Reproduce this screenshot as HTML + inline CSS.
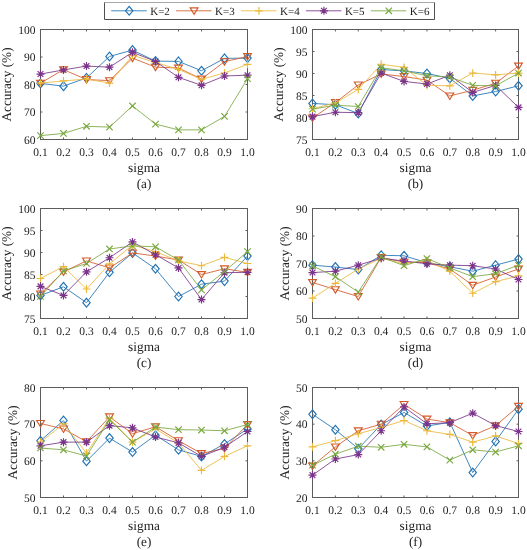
<!DOCTYPE html>
<html><head><meta charset="utf-8"><style>
html,body{margin:0;padding:0;background:#fff;}
body{width:527px;height:550px;position:relative;overflow:hidden;font-family:"Liberation Serif",serif;}
svg text{font-family:"Liberation Serif",serif;text-rendering:geometricPrecision;}
</style></head><body>
<svg width="527" height="550" viewBox="0 0 527 550" style="position:absolute;left:0;top:0;filter:blur(0.3px)">
<rect x="104.5" y="2.5" width="330.0" height="17.0" fill="#fff" stroke="none"/>
<path d="M104.5 2.5H434.5" stroke="#a8a8a8" stroke-width="1"/>
<path d="M104.5 2.5V19.5H434.5V2.5" fill="none" stroke="#505050" stroke-width="1"/>
<path d="M111.20 10.8H146.70" stroke="#1f72b4" stroke-width="0.85"/>
<path d="M129.20 6.40L132.90 10.80L129.20 15.20L125.50 10.80Z" fill="none" stroke="#1f72b4" stroke-width="1.15"/>
<text x="150.20" y="15" font-size="11" fill="#222222">K=2</text>
<path d="M176.10 10.8H211.60" stroke="#d35a2a" stroke-width="0.85"/>
<path d="M190.20 7.90L198.00 7.90L194.10 14.30Z" fill="none" stroke="#d35a2a" stroke-width="1.15"/>
<text x="215.10" y="15" font-size="11" fill="#222222">K=3</text>
<path d="M241.00 10.8H276.50" stroke="#ebb83a" stroke-width="0.85"/>
<path d="M255.10 10.80H262.90M259.00 6.90V14.70" stroke="#ebb83a" stroke-width="1.15"/>
<text x="280.00" y="15" font-size="11" fill="#222222">K=4</text>
<path d="M305.90 10.8H341.40" stroke="#7a3489" stroke-width="0.85"/>
<path d="M319.90 10.80H327.90M323.90 6.80V14.80M321.05 7.95L326.75 13.65M321.05 13.65L326.75 7.95" stroke="#7a3489" stroke-width="1.15"/>
<text x="344.90" y="15" font-size="11" fill="#222222">K=5</text>
<path d="M370.80 10.8H406.30" stroke="#78a83e" stroke-width="0.85"/>
<path d="M385.60 7.60L392.00 14.00M385.60 14.00L392.00 7.60" stroke="#78a83e" stroke-width="1.15"/>
<text x="409.80" y="15" font-size="11" fill="#222222">K=6</text>
<rect x="40.5" y="29.5" width="207.00" height="110.00" fill="none" stroke="#5c5c5c" stroke-width="1"/>
<path d="M40.50 139.5v-2M40.50 29.5v2" stroke="#5c5c5c" stroke-width="1"/>
<text x="40.50" y="155.70" font-size="11.5" text-anchor="middle" fill="#222222">0.1</text>
<path d="M63.50 139.5v-2M63.50 29.5v2" stroke="#5c5c5c" stroke-width="1"/>
<text x="63.50" y="155.70" font-size="11.5" text-anchor="middle" fill="#222222">0.2</text>
<path d="M86.50 139.5v-2M86.50 29.5v2" stroke="#5c5c5c" stroke-width="1"/>
<text x="86.50" y="155.70" font-size="11.5" text-anchor="middle" fill="#222222">0.3</text>
<path d="M109.50 139.5v-2M109.50 29.5v2" stroke="#5c5c5c" stroke-width="1"/>
<text x="109.50" y="155.70" font-size="11.5" text-anchor="middle" fill="#222222">0.4</text>
<path d="M132.50 139.5v-2M132.50 29.5v2" stroke="#5c5c5c" stroke-width="1"/>
<text x="132.50" y="155.70" font-size="11.5" text-anchor="middle" fill="#222222">0.5</text>
<path d="M155.50 139.5v-2M155.50 29.5v2" stroke="#5c5c5c" stroke-width="1"/>
<text x="155.50" y="155.70" font-size="11.5" text-anchor="middle" fill="#222222">0.6</text>
<path d="M178.50 139.5v-2M178.50 29.5v2" stroke="#5c5c5c" stroke-width="1"/>
<text x="178.50" y="155.70" font-size="11.5" text-anchor="middle" fill="#222222">0.7</text>
<path d="M201.50 139.5v-2M201.50 29.5v2" stroke="#5c5c5c" stroke-width="1"/>
<text x="201.50" y="155.70" font-size="11.5" text-anchor="middle" fill="#222222">0.8</text>
<path d="M224.50 139.5v-2M224.50 29.5v2" stroke="#5c5c5c" stroke-width="1"/>
<text x="224.50" y="155.70" font-size="11.5" text-anchor="middle" fill="#222222">0.9</text>
<path d="M247.50 139.5v-2M247.50 29.5v2" stroke="#5c5c5c" stroke-width="1"/>
<text x="247.50" y="155.70" font-size="11.5" text-anchor="middle" fill="#222222">1.0</text>
<path d="M40.5 139.50h2M247.5 139.50h-2" stroke="#5c5c5c" stroke-width="1"/>
<text x="35.50" y="143.50" font-size="11.5" text-anchor="end" fill="#222222">60</text>
<path d="M40.5 112.00h2M247.5 112.00h-2" stroke="#5c5c5c" stroke-width="1"/>
<text x="35.50" y="116.00" font-size="11.5" text-anchor="end" fill="#222222">70</text>
<path d="M40.5 84.50h2M247.5 84.50h-2" stroke="#5c5c5c" stroke-width="1"/>
<text x="35.50" y="88.50" font-size="11.5" text-anchor="end" fill="#222222">80</text>
<path d="M40.5 57.00h2M247.5 57.00h-2" stroke="#5c5c5c" stroke-width="1"/>
<text x="35.50" y="61.00" font-size="11.5" text-anchor="end" fill="#222222">90</text>
<path d="M40.5 29.50h2M247.5 29.50h-2" stroke="#5c5c5c" stroke-width="1"/>
<text x="35.50" y="33.50" font-size="11.5" text-anchor="end" fill="#222222">100</text>
<text x="144.00" y="171.70" font-size="13.3" text-anchor="middle" fill="#222222">sigma</text>
<text x="144.00" y="187.70" font-size="13.2" text-anchor="middle" fill="#222222">(a)</text>
<text transform="translate(11.40,84.50) rotate(-90)" font-size="13.3" text-anchor="middle" fill="#222222">Accuracy (%)</text>
<polyline points="40.50,83.40 63.50,86.15 86.50,77.90 109.50,56.45 132.50,50.12 155.50,61.12 178.50,61.40 201.50,70.75 224.50,58.38 247.50,58.10" fill="none" stroke="#1f72b4" stroke-width="0.85"/>
<path d="M40.50 79.00L44.20 83.40L40.50 87.80L36.80 83.40Z" fill="none" stroke="#1f72b4" stroke-width="1.15"/>
<path d="M63.50 81.75L67.20 86.15L63.50 90.55L59.80 86.15Z" fill="none" stroke="#1f72b4" stroke-width="1.15"/>
<path d="M86.50 73.50L90.20 77.90L86.50 82.30L82.80 77.90Z" fill="none" stroke="#1f72b4" stroke-width="1.15"/>
<path d="M109.50 52.05L113.20 56.45L109.50 60.85L105.80 56.45Z" fill="none" stroke="#1f72b4" stroke-width="1.15"/>
<path d="M132.50 45.73L136.20 50.12L132.50 54.52L128.80 50.12Z" fill="none" stroke="#1f72b4" stroke-width="1.15"/>
<path d="M155.50 56.73L159.20 61.12L155.50 65.53L151.80 61.12Z" fill="none" stroke="#1f72b4" stroke-width="1.15"/>
<path d="M178.50 57.00L182.20 61.40L178.50 65.80L174.80 61.40Z" fill="none" stroke="#1f72b4" stroke-width="1.15"/>
<path d="M201.50 66.35L205.20 70.75L201.50 75.15L197.80 70.75Z" fill="none" stroke="#1f72b4" stroke-width="1.15"/>
<path d="M224.50 53.98L228.20 58.38L224.50 62.77L220.80 58.38Z" fill="none" stroke="#1f72b4" stroke-width="1.15"/>
<path d="M247.50 53.70L251.20 58.10L247.50 62.50L243.80 58.10Z" fill="none" stroke="#1f72b4" stroke-width="1.15"/>
<polyline points="40.50,83.12 63.50,69.65 86.50,79.55 109.50,80.65 132.50,58.10 155.50,67.17 178.50,68.00 201.50,79.00 224.50,61.68 247.50,56.45" fill="none" stroke="#d35a2a" stroke-width="0.85"/>
<path d="M36.60 80.22L44.40 80.22L40.50 86.62Z" fill="none" stroke="#d35a2a" stroke-width="1.15"/>
<path d="M59.60 66.75L67.40 66.75L63.50 73.15Z" fill="none" stroke="#d35a2a" stroke-width="1.15"/>
<path d="M82.60 76.65L90.40 76.65L86.50 83.05Z" fill="none" stroke="#d35a2a" stroke-width="1.15"/>
<path d="M105.60 77.75L113.40 77.75L109.50 84.15Z" fill="none" stroke="#d35a2a" stroke-width="1.15"/>
<path d="M128.60 55.20L136.40 55.20L132.50 61.60Z" fill="none" stroke="#d35a2a" stroke-width="1.15"/>
<path d="M151.60 64.27L159.40 64.27L155.50 70.67Z" fill="none" stroke="#d35a2a" stroke-width="1.15"/>
<path d="M174.60 65.10L182.40 65.10L178.50 71.50Z" fill="none" stroke="#d35a2a" stroke-width="1.15"/>
<path d="M197.60 76.10L205.40 76.10L201.50 82.50Z" fill="none" stroke="#d35a2a" stroke-width="1.15"/>
<path d="M220.60 58.78L228.40 58.78L224.50 65.18Z" fill="none" stroke="#d35a2a" stroke-width="1.15"/>
<path d="M243.60 53.55L251.40 53.55L247.50 59.95Z" fill="none" stroke="#d35a2a" stroke-width="1.15"/>
<polyline points="40.50,83.12 63.50,80.93 86.50,79.00 109.50,83.12 132.50,55.35 155.50,62.50 178.50,69.38 201.50,79.27 224.50,72.95 247.50,64.43" fill="none" stroke="#ebb83a" stroke-width="0.85"/>
<path d="M36.60 83.12H44.40M40.50 79.22V87.03" stroke="#ebb83a" stroke-width="1.15"/>
<path d="M59.60 80.93H67.40M63.50 77.03V84.83" stroke="#ebb83a" stroke-width="1.15"/>
<path d="M82.60 79.00H90.40M86.50 75.10V82.90" stroke="#ebb83a" stroke-width="1.15"/>
<path d="M105.60 83.12H113.40M109.50 79.22V87.03" stroke="#ebb83a" stroke-width="1.15"/>
<path d="M128.60 55.35H136.40M132.50 51.45V59.25" stroke="#ebb83a" stroke-width="1.15"/>
<path d="M151.60 62.50H159.40M155.50 58.60V66.40" stroke="#ebb83a" stroke-width="1.15"/>
<path d="M174.60 69.38H182.40M178.50 65.47V73.28" stroke="#ebb83a" stroke-width="1.15"/>
<path d="M197.60 79.27H205.40M201.50 75.37V83.17" stroke="#ebb83a" stroke-width="1.15"/>
<path d="M220.60 72.95H228.40M224.50 69.05V76.85" stroke="#ebb83a" stroke-width="1.15"/>
<path d="M243.60 64.43H251.40M247.50 60.53V68.33" stroke="#ebb83a" stroke-width="1.15"/>
<polyline points="40.50,74.05 63.50,69.93 86.50,66.07 109.50,67.17 132.50,52.32 155.50,61.40 178.50,77.35 201.50,85.32 224.50,75.98 247.50,75.15" fill="none" stroke="#7a3489" stroke-width="0.85"/>
<path d="M36.50 74.05H44.50M40.50 70.05V78.05M37.65 71.20L43.35 76.90M37.65 76.90L43.35 71.20" stroke="#7a3489" stroke-width="1.15"/>
<path d="M59.50 69.93H67.50M63.50 65.93V73.93M60.65 67.08L66.35 72.78M60.65 72.78L66.35 67.08" stroke="#7a3489" stroke-width="1.15"/>
<path d="M82.50 66.07H90.50M86.50 62.07V70.07M83.65 63.22L89.35 68.92M83.65 68.92L89.35 63.22" stroke="#7a3489" stroke-width="1.15"/>
<path d="M105.50 67.17H113.50M109.50 63.17V71.17M106.65 64.33L112.35 70.02M106.65 70.02L112.35 64.33" stroke="#7a3489" stroke-width="1.15"/>
<path d="M128.50 52.32H136.50M132.50 48.32V56.32M129.65 49.47L135.35 55.17M129.65 55.17L135.35 49.47" stroke="#7a3489" stroke-width="1.15"/>
<path d="M151.50 61.40H159.50M155.50 57.40V65.40M152.65 58.55L158.35 64.25M152.65 64.25L158.35 58.55" stroke="#7a3489" stroke-width="1.15"/>
<path d="M174.50 77.35H182.50M178.50 73.35V81.35M175.65 74.50L181.35 80.20M175.65 80.20L181.35 74.50" stroke="#7a3489" stroke-width="1.15"/>
<path d="M197.50 85.32H205.50M201.50 81.32V89.32M198.65 82.47L204.35 88.17M198.65 88.17L204.35 82.47" stroke="#7a3489" stroke-width="1.15"/>
<path d="M220.50 75.98H228.50M224.50 71.98V79.98M221.65 73.13L227.35 78.83M221.65 78.83L227.35 73.13" stroke="#7a3489" stroke-width="1.15"/>
<path d="M243.50 75.15H251.50M247.50 71.15V79.15M244.65 72.30L250.35 78.00M244.65 78.00L250.35 72.30" stroke="#7a3489" stroke-width="1.15"/>
<polyline points="40.50,135.65 63.50,133.45 86.50,126.30 109.50,127.12 132.50,105.95 155.50,124.10 178.50,129.88 201.50,129.88 224.50,116.40 247.50,78.73" fill="none" stroke="#78a83e" stroke-width="0.85"/>
<path d="M37.30 132.45L43.70 138.85M37.30 138.85L43.70 132.45" stroke="#78a83e" stroke-width="1.15"/>
<path d="M60.30 130.25L66.70 136.65M60.30 136.65L66.70 130.25" stroke="#78a83e" stroke-width="1.15"/>
<path d="M83.30 123.10L89.70 129.50M83.30 129.50L89.70 123.10" stroke="#78a83e" stroke-width="1.15"/>
<path d="M106.30 123.92L112.70 130.32M106.30 130.32L112.70 123.92" stroke="#78a83e" stroke-width="1.15"/>
<path d="M129.30 102.75L135.70 109.15M129.30 109.15L135.70 102.75" stroke="#78a83e" stroke-width="1.15"/>
<path d="M152.30 120.90L158.70 127.30M152.30 127.30L158.70 120.90" stroke="#78a83e" stroke-width="1.15"/>
<path d="M175.30 126.67L181.70 133.07M175.30 133.07L181.70 126.67" stroke="#78a83e" stroke-width="1.15"/>
<path d="M198.30 126.67L204.70 133.07M198.30 133.07L204.70 126.67" stroke="#78a83e" stroke-width="1.15"/>
<path d="M221.30 113.20L227.70 119.60M221.30 119.60L227.70 113.20" stroke="#78a83e" stroke-width="1.15"/>
<path d="M244.30 75.53L250.70 81.93M244.30 81.93L250.70 75.53" stroke="#78a83e" stroke-width="1.15"/>
<rect x="312.5" y="29.5" width="206.00" height="110.00" fill="none" stroke="#5c5c5c" stroke-width="1"/>
<path d="M312.50 139.5v-2M312.50 29.5v2" stroke="#5c5c5c" stroke-width="1"/>
<text x="312.50" y="155.70" font-size="11.5" text-anchor="middle" fill="#222222">0.1</text>
<path d="M335.39 139.5v-2M335.39 29.5v2" stroke="#5c5c5c" stroke-width="1"/>
<text x="335.39" y="155.70" font-size="11.5" text-anchor="middle" fill="#222222">0.2</text>
<path d="M358.28 139.5v-2M358.28 29.5v2" stroke="#5c5c5c" stroke-width="1"/>
<text x="358.28" y="155.70" font-size="11.5" text-anchor="middle" fill="#222222">0.3</text>
<path d="M381.17 139.5v-2M381.17 29.5v2" stroke="#5c5c5c" stroke-width="1"/>
<text x="381.17" y="155.70" font-size="11.5" text-anchor="middle" fill="#222222">0.4</text>
<path d="M404.06 139.5v-2M404.06 29.5v2" stroke="#5c5c5c" stroke-width="1"/>
<text x="404.06" y="155.70" font-size="11.5" text-anchor="middle" fill="#222222">0.5</text>
<path d="M426.94 139.5v-2M426.94 29.5v2" stroke="#5c5c5c" stroke-width="1"/>
<text x="426.94" y="155.70" font-size="11.5" text-anchor="middle" fill="#222222">0.6</text>
<path d="M449.83 139.5v-2M449.83 29.5v2" stroke="#5c5c5c" stroke-width="1"/>
<text x="449.83" y="155.70" font-size="11.5" text-anchor="middle" fill="#222222">0.7</text>
<path d="M472.72 139.5v-2M472.72 29.5v2" stroke="#5c5c5c" stroke-width="1"/>
<text x="472.72" y="155.70" font-size="11.5" text-anchor="middle" fill="#222222">0.8</text>
<path d="M495.61 139.5v-2M495.61 29.5v2" stroke="#5c5c5c" stroke-width="1"/>
<text x="495.61" y="155.70" font-size="11.5" text-anchor="middle" fill="#222222">0.9</text>
<path d="M518.50 139.5v-2M518.50 29.5v2" stroke="#5c5c5c" stroke-width="1"/>
<text x="518.50" y="155.70" font-size="11.5" text-anchor="middle" fill="#222222">1.0</text>
<path d="M312.5 139.50h2M518.5 139.50h-2" stroke="#5c5c5c" stroke-width="1"/>
<text x="307.50" y="143.50" font-size="11.5" text-anchor="end" fill="#222222">75</text>
<path d="M312.5 117.50h2M518.5 117.50h-2" stroke="#5c5c5c" stroke-width="1"/>
<text x="307.50" y="121.50" font-size="11.5" text-anchor="end" fill="#222222">80</text>
<path d="M312.5 95.50h2M518.5 95.50h-2" stroke="#5c5c5c" stroke-width="1"/>
<text x="307.50" y="99.50" font-size="11.5" text-anchor="end" fill="#222222">85</text>
<path d="M312.5 73.50h2M518.5 73.50h-2" stroke="#5c5c5c" stroke-width="1"/>
<text x="307.50" y="77.50" font-size="11.5" text-anchor="end" fill="#222222">90</text>
<path d="M312.5 51.50h2M518.5 51.50h-2" stroke="#5c5c5c" stroke-width="1"/>
<text x="307.50" y="55.50" font-size="11.5" text-anchor="end" fill="#222222">95</text>
<path d="M312.5 29.50h2M518.5 29.50h-2" stroke="#5c5c5c" stroke-width="1"/>
<text x="307.50" y="33.50" font-size="11.5" text-anchor="end" fill="#222222">100</text>
<text x="415.50" y="171.70" font-size="13.3" text-anchor="middle" fill="#222222">sigma</text>
<text x="415.50" y="187.70" font-size="13.2" text-anchor="middle" fill="#222222">(b)</text>
<text transform="translate(283.40,84.50) rotate(-90)" font-size="13.3" text-anchor="middle" fill="#222222">Accuracy (%)</text>
<polyline points="312.50,103.42 335.39,104.74 358.28,113.54 381.17,69.54 404.06,70.86 426.94,73.50 449.83,78.34 472.72,95.94 495.61,91.54 518.50,85.82" fill="none" stroke="#1f72b4" stroke-width="0.85"/>
<path d="M312.50 99.02L316.20 103.42L312.50 107.82L308.80 103.42Z" fill="none" stroke="#1f72b4" stroke-width="1.15"/>
<path d="M335.39 100.34L339.09 104.74L335.39 109.14L331.69 104.74Z" fill="none" stroke="#1f72b4" stroke-width="1.15"/>
<path d="M358.28 109.14L361.98 113.54L358.28 117.94L354.58 113.54Z" fill="none" stroke="#1f72b4" stroke-width="1.15"/>
<path d="M381.17 65.14L384.87 69.54L381.17 73.94L377.47 69.54Z" fill="none" stroke="#1f72b4" stroke-width="1.15"/>
<path d="M404.06 66.46L407.76 70.86L404.06 75.26L400.36 70.86Z" fill="none" stroke="#1f72b4" stroke-width="1.15"/>
<path d="M426.94 69.10L430.64 73.50L426.94 77.90L423.24 73.50Z" fill="none" stroke="#1f72b4" stroke-width="1.15"/>
<path d="M449.83 73.94L453.53 78.34L449.83 82.74L446.13 78.34Z" fill="none" stroke="#1f72b4" stroke-width="1.15"/>
<path d="M472.72 91.54L476.42 95.94L472.72 100.34L469.02 95.94Z" fill="none" stroke="#1f72b4" stroke-width="1.15"/>
<path d="M495.61 87.14L499.31 91.54L495.61 95.94L491.91 91.54Z" fill="none" stroke="#1f72b4" stroke-width="1.15"/>
<path d="M518.50 81.42L522.20 85.82L518.50 90.22L514.80 85.82Z" fill="none" stroke="#1f72b4" stroke-width="1.15"/>
<polyline points="312.50,117.94 335.39,102.54 358.28,84.94 381.17,73.94 404.06,76.58 426.94,80.10 449.83,95.94 472.72,90.22 495.61,83.18 518.50,66.02" fill="none" stroke="#d35a2a" stroke-width="0.85"/>
<path d="M308.60 115.04L316.40 115.04L312.50 121.44Z" fill="none" stroke="#d35a2a" stroke-width="1.15"/>
<path d="M331.49 99.64L339.29 99.64L335.39 106.04Z" fill="none" stroke="#d35a2a" stroke-width="1.15"/>
<path d="M354.38 82.04L362.18 82.04L358.28 88.44Z" fill="none" stroke="#d35a2a" stroke-width="1.15"/>
<path d="M377.27 71.04L385.07 71.04L381.17 77.44Z" fill="none" stroke="#d35a2a" stroke-width="1.15"/>
<path d="M400.16 73.68L407.96 73.68L404.06 80.08Z" fill="none" stroke="#d35a2a" stroke-width="1.15"/>
<path d="M423.04 77.20L430.84 77.20L426.94 83.60Z" fill="none" stroke="#d35a2a" stroke-width="1.15"/>
<path d="M445.93 93.04L453.73 93.04L449.83 99.44Z" fill="none" stroke="#d35a2a" stroke-width="1.15"/>
<path d="M468.82 87.32L476.62 87.32L472.72 93.72Z" fill="none" stroke="#d35a2a" stroke-width="1.15"/>
<path d="M491.71 80.28L499.51 80.28L495.61 86.68Z" fill="none" stroke="#d35a2a" stroke-width="1.15"/>
<path d="M514.60 63.12L522.40 63.12L518.50 69.52Z" fill="none" stroke="#d35a2a" stroke-width="1.15"/>
<polyline points="312.50,108.70 335.39,102.98 358.28,89.34 381.17,64.26 404.06,67.34 426.94,85.38 449.83,85.82 472.72,73.06 495.61,74.82 518.50,73.06" fill="none" stroke="#ebb83a" stroke-width="0.85"/>
<path d="M308.60 108.70H316.40M312.50 104.80V112.60" stroke="#ebb83a" stroke-width="1.15"/>
<path d="M331.49 102.98H339.29M335.39 99.08V106.88" stroke="#ebb83a" stroke-width="1.15"/>
<path d="M354.38 89.34H362.18M358.28 85.44V93.24" stroke="#ebb83a" stroke-width="1.15"/>
<path d="M377.27 64.26H385.07M381.17 60.36V68.16" stroke="#ebb83a" stroke-width="1.15"/>
<path d="M400.16 67.34H407.96M404.06 63.44V71.24" stroke="#ebb83a" stroke-width="1.15"/>
<path d="M423.04 85.38H430.84M426.94 81.48V89.28" stroke="#ebb83a" stroke-width="1.15"/>
<path d="M445.93 85.82H453.73M449.83 81.92V89.72" stroke="#ebb83a" stroke-width="1.15"/>
<path d="M468.82 73.06H476.62M472.72 69.16V76.96" stroke="#ebb83a" stroke-width="1.15"/>
<path d="M491.71 74.82H499.51M495.61 70.92V78.72" stroke="#ebb83a" stroke-width="1.15"/>
<path d="M514.60 73.06H522.40M518.50 69.16V76.96" stroke="#ebb83a" stroke-width="1.15"/>
<polyline points="312.50,116.62 335.39,112.22 358.28,112.66 381.17,73.06 404.06,81.42 426.94,84.06 449.83,75.26 472.72,92.42 495.61,85.38 518.50,107.38" fill="none" stroke="#7a3489" stroke-width="0.85"/>
<path d="M308.50 116.62H316.50M312.50 112.62V120.62M309.65 113.77L315.35 119.47M309.65 119.47L315.35 113.77" stroke="#7a3489" stroke-width="1.15"/>
<path d="M331.39 112.22H339.39M335.39 108.22V116.22M332.54 109.37L338.24 115.07M332.54 115.07L338.24 109.37" stroke="#7a3489" stroke-width="1.15"/>
<path d="M354.28 112.66H362.28M358.28 108.66V116.66M355.43 109.81L361.13 115.51M355.43 115.51L361.13 109.81" stroke="#7a3489" stroke-width="1.15"/>
<path d="M377.17 73.06H385.17M381.17 69.06V77.06M378.32 70.21L384.02 75.91M378.32 75.91L384.02 70.21" stroke="#7a3489" stroke-width="1.15"/>
<path d="M400.06 81.42H408.06M404.06 77.42V85.42M401.21 78.57L406.91 84.27M401.21 84.27L406.91 78.57" stroke="#7a3489" stroke-width="1.15"/>
<path d="M422.94 84.06H430.94M426.94 80.06V88.06M424.09 81.21L429.79 86.91M424.09 86.91L429.79 81.21" stroke="#7a3489" stroke-width="1.15"/>
<path d="M445.83 75.26H453.83M449.83 71.26V79.26M446.98 72.41L452.68 78.11M446.98 78.11L452.68 72.41" stroke="#7a3489" stroke-width="1.15"/>
<path d="M468.72 92.42H476.72M472.72 88.42V96.42M469.87 89.57L475.57 95.27M469.87 95.27L475.57 89.57" stroke="#7a3489" stroke-width="1.15"/>
<path d="M491.61 85.38H499.61M495.61 81.38V89.38M492.76 82.53L498.46 88.23M492.76 88.23L498.46 82.53" stroke="#7a3489" stroke-width="1.15"/>
<path d="M514.50 107.38H522.50M518.50 103.38V111.38M515.65 104.53L521.35 110.23M515.65 110.23L521.35 104.53" stroke="#7a3489" stroke-width="1.15"/>
<polyline points="312.50,109.14 335.39,105.18 358.28,106.50 381.17,67.78 404.06,70.86 426.94,75.70 449.83,77.02 472.72,85.38 495.61,85.82 518.50,73.06" fill="none" stroke="#78a83e" stroke-width="0.85"/>
<path d="M309.30 105.94L315.70 112.34M309.30 112.34L315.70 105.94" stroke="#78a83e" stroke-width="1.15"/>
<path d="M332.19 101.98L338.59 108.38M332.19 108.38L338.59 101.98" stroke="#78a83e" stroke-width="1.15"/>
<path d="M355.08 103.30L361.48 109.70M355.08 109.70L361.48 103.30" stroke="#78a83e" stroke-width="1.15"/>
<path d="M377.97 64.58L384.37 70.98M377.97 70.98L384.37 64.58" stroke="#78a83e" stroke-width="1.15"/>
<path d="M400.86 67.66L407.26 74.06M400.86 74.06L407.26 67.66" stroke="#78a83e" stroke-width="1.15"/>
<path d="M423.74 72.50L430.14 78.90M423.74 78.90L430.14 72.50" stroke="#78a83e" stroke-width="1.15"/>
<path d="M446.63 73.82L453.03 80.22M446.63 80.22L453.03 73.82" stroke="#78a83e" stroke-width="1.15"/>
<path d="M469.52 82.18L475.92 88.58M469.52 88.58L475.92 82.18" stroke="#78a83e" stroke-width="1.15"/>
<path d="M492.41 82.62L498.81 89.02M492.41 89.02L498.81 82.62" stroke="#78a83e" stroke-width="1.15"/>
<path d="M515.30 69.86L521.70 76.26M515.30 76.26L521.70 69.86" stroke="#78a83e" stroke-width="1.15"/>
<rect x="40.5" y="208.5" width="207.00" height="110.00" fill="none" stroke="#5c5c5c" stroke-width="1"/>
<path d="M40.50 318.5v-2M40.50 208.5v2" stroke="#5c5c5c" stroke-width="1"/>
<text x="40.50" y="334.70" font-size="11.5" text-anchor="middle" fill="#222222">0.1</text>
<path d="M63.50 318.5v-2M63.50 208.5v2" stroke="#5c5c5c" stroke-width="1"/>
<text x="63.50" y="334.70" font-size="11.5" text-anchor="middle" fill="#222222">0.2</text>
<path d="M86.50 318.5v-2M86.50 208.5v2" stroke="#5c5c5c" stroke-width="1"/>
<text x="86.50" y="334.70" font-size="11.5" text-anchor="middle" fill="#222222">0.3</text>
<path d="M109.50 318.5v-2M109.50 208.5v2" stroke="#5c5c5c" stroke-width="1"/>
<text x="109.50" y="334.70" font-size="11.5" text-anchor="middle" fill="#222222">0.4</text>
<path d="M132.50 318.5v-2M132.50 208.5v2" stroke="#5c5c5c" stroke-width="1"/>
<text x="132.50" y="334.70" font-size="11.5" text-anchor="middle" fill="#222222">0.5</text>
<path d="M155.50 318.5v-2M155.50 208.5v2" stroke="#5c5c5c" stroke-width="1"/>
<text x="155.50" y="334.70" font-size="11.5" text-anchor="middle" fill="#222222">0.6</text>
<path d="M178.50 318.5v-2M178.50 208.5v2" stroke="#5c5c5c" stroke-width="1"/>
<text x="178.50" y="334.70" font-size="11.5" text-anchor="middle" fill="#222222">0.7</text>
<path d="M201.50 318.5v-2M201.50 208.5v2" stroke="#5c5c5c" stroke-width="1"/>
<text x="201.50" y="334.70" font-size="11.5" text-anchor="middle" fill="#222222">0.8</text>
<path d="M224.50 318.5v-2M224.50 208.5v2" stroke="#5c5c5c" stroke-width="1"/>
<text x="224.50" y="334.70" font-size="11.5" text-anchor="middle" fill="#222222">0.9</text>
<path d="M247.50 318.5v-2M247.50 208.5v2" stroke="#5c5c5c" stroke-width="1"/>
<text x="247.50" y="334.70" font-size="11.5" text-anchor="middle" fill="#222222">1.0</text>
<path d="M40.5 318.50h2M247.5 318.50h-2" stroke="#5c5c5c" stroke-width="1"/>
<text x="35.50" y="322.50" font-size="11.5" text-anchor="end" fill="#222222">75</text>
<path d="M40.5 296.50h2M247.5 296.50h-2" stroke="#5c5c5c" stroke-width="1"/>
<text x="35.50" y="300.50" font-size="11.5" text-anchor="end" fill="#222222">80</text>
<path d="M40.5 274.50h2M247.5 274.50h-2" stroke="#5c5c5c" stroke-width="1"/>
<text x="35.50" y="278.50" font-size="11.5" text-anchor="end" fill="#222222">85</text>
<path d="M40.5 252.50h2M247.5 252.50h-2" stroke="#5c5c5c" stroke-width="1"/>
<text x="35.50" y="256.50" font-size="11.5" text-anchor="end" fill="#222222">90</text>
<path d="M40.5 230.50h2M247.5 230.50h-2" stroke="#5c5c5c" stroke-width="1"/>
<text x="35.50" y="234.50" font-size="11.5" text-anchor="end" fill="#222222">95</text>
<path d="M40.5 208.50h2M247.5 208.50h-2" stroke="#5c5c5c" stroke-width="1"/>
<text x="35.50" y="212.50" font-size="11.5" text-anchor="end" fill="#222222">100</text>
<text x="144.00" y="350.70" font-size="13.3" text-anchor="middle" fill="#222222">sigma</text>
<text x="144.00" y="366.70" font-size="13.2" text-anchor="middle" fill="#222222">(c)</text>
<text transform="translate(11.40,263.50) rotate(-90)" font-size="13.3" text-anchor="middle" fill="#222222">Accuracy (%)</text>
<polyline points="40.50,295.40 63.50,286.82 86.50,302.66 109.50,272.30 132.50,252.94 155.50,268.78 178.50,296.50 201.50,284.18 224.50,281.10 247.50,256.02" fill="none" stroke="#1f72b4" stroke-width="0.85"/>
<path d="M40.50 291.00L44.20 295.40L40.50 299.80L36.80 295.40Z" fill="none" stroke="#1f72b4" stroke-width="1.15"/>
<path d="M63.50 282.42L67.20 286.82L63.50 291.22L59.80 286.82Z" fill="none" stroke="#1f72b4" stroke-width="1.15"/>
<path d="M86.50 298.26L90.20 302.66L86.50 307.06L82.80 302.66Z" fill="none" stroke="#1f72b4" stroke-width="1.15"/>
<path d="M109.50 267.90L113.20 272.30L109.50 276.70L105.80 272.30Z" fill="none" stroke="#1f72b4" stroke-width="1.15"/>
<path d="M132.50 248.54L136.20 252.94L132.50 257.34L128.80 252.94Z" fill="none" stroke="#1f72b4" stroke-width="1.15"/>
<path d="M155.50 264.38L159.20 268.78L155.50 273.18L151.80 268.78Z" fill="none" stroke="#1f72b4" stroke-width="1.15"/>
<path d="M178.50 292.10L182.20 296.50L178.50 300.90L174.80 296.50Z" fill="none" stroke="#1f72b4" stroke-width="1.15"/>
<path d="M201.50 279.78L205.20 284.18L201.50 288.58L197.80 284.18Z" fill="none" stroke="#1f72b4" stroke-width="1.15"/>
<path d="M224.50 276.70L228.20 281.10L224.50 285.50L220.80 281.10Z" fill="none" stroke="#1f72b4" stroke-width="1.15"/>
<path d="M247.50 251.62L251.20 256.02L247.50 260.42L243.80 256.02Z" fill="none" stroke="#1f72b4" stroke-width="1.15"/>
<polyline points="40.50,293.86 63.50,271.86 86.50,260.86 109.50,267.90 132.50,252.94 155.50,256.02 178.50,259.98 201.50,274.50 224.50,268.78 247.50,272.30" fill="none" stroke="#d35a2a" stroke-width="0.85"/>
<path d="M36.60 290.96L44.40 290.96L40.50 297.36Z" fill="none" stroke="#d35a2a" stroke-width="1.15"/>
<path d="M59.60 268.96L67.40 268.96L63.50 275.36Z" fill="none" stroke="#d35a2a" stroke-width="1.15"/>
<path d="M82.60 257.96L90.40 257.96L86.50 264.36Z" fill="none" stroke="#d35a2a" stroke-width="1.15"/>
<path d="M105.60 265.00L113.40 265.00L109.50 271.40Z" fill="none" stroke="#d35a2a" stroke-width="1.15"/>
<path d="M128.60 250.04L136.40 250.04L132.50 256.44Z" fill="none" stroke="#d35a2a" stroke-width="1.15"/>
<path d="M151.60 253.12L159.40 253.12L155.50 259.52Z" fill="none" stroke="#d35a2a" stroke-width="1.15"/>
<path d="M174.60 257.08L182.40 257.08L178.50 263.48Z" fill="none" stroke="#d35a2a" stroke-width="1.15"/>
<path d="M197.60 271.60L205.40 271.60L201.50 278.00Z" fill="none" stroke="#d35a2a" stroke-width="1.15"/>
<path d="M220.60 265.88L228.40 265.88L224.50 272.28Z" fill="none" stroke="#d35a2a" stroke-width="1.15"/>
<path d="M243.60 269.40L251.40 269.40L247.50 275.80Z" fill="none" stroke="#d35a2a" stroke-width="1.15"/>
<polyline points="40.50,278.46 63.50,266.58 86.50,289.02 109.50,263.94 132.50,245.02 155.50,251.62 178.50,260.86 201.50,265.70 224.50,257.34 247.50,263.50" fill="none" stroke="#ebb83a" stroke-width="0.85"/>
<path d="M36.60 278.46H44.40M40.50 274.56V282.36" stroke="#ebb83a" stroke-width="1.15"/>
<path d="M59.60 266.58H67.40M63.50 262.68V270.48" stroke="#ebb83a" stroke-width="1.15"/>
<path d="M82.60 289.02H90.40M86.50 285.12V292.92" stroke="#ebb83a" stroke-width="1.15"/>
<path d="M105.60 263.94H113.40M109.50 260.04V267.84" stroke="#ebb83a" stroke-width="1.15"/>
<path d="M128.60 245.02H136.40M132.50 241.12V248.92" stroke="#ebb83a" stroke-width="1.15"/>
<path d="M151.60 251.62H159.40M155.50 247.72V255.52" stroke="#ebb83a" stroke-width="1.15"/>
<path d="M174.60 260.86H182.40M178.50 256.96V264.76" stroke="#ebb83a" stroke-width="1.15"/>
<path d="M197.60 265.70H205.40M201.50 261.80V269.60" stroke="#ebb83a" stroke-width="1.15"/>
<path d="M220.60 257.34H228.40M224.50 253.44V261.24" stroke="#ebb83a" stroke-width="1.15"/>
<path d="M243.60 263.50H251.40M247.50 259.60V267.40" stroke="#ebb83a" stroke-width="1.15"/>
<polyline points="40.50,286.38 63.50,295.40 86.50,271.86 109.50,257.78 132.50,241.94 155.50,254.70 178.50,267.90 201.50,299.58 224.50,272.74 247.50,272.30" fill="none" stroke="#7a3489" stroke-width="0.85"/>
<path d="M36.50 286.38H44.50M40.50 282.38V290.38M37.65 283.53L43.35 289.23M37.65 289.23L43.35 283.53" stroke="#7a3489" stroke-width="1.15"/>
<path d="M59.50 295.40H67.50M63.50 291.40V299.40M60.65 292.55L66.35 298.25M60.65 298.25L66.35 292.55" stroke="#7a3489" stroke-width="1.15"/>
<path d="M82.50 271.86H90.50M86.50 267.86V275.86M83.65 269.01L89.35 274.71M83.65 274.71L89.35 269.01" stroke="#7a3489" stroke-width="1.15"/>
<path d="M105.50 257.78H113.50M109.50 253.78V261.78M106.65 254.93L112.35 260.63M106.65 260.63L112.35 254.93" stroke="#7a3489" stroke-width="1.15"/>
<path d="M128.50 241.94H136.50M132.50 237.94V245.94M129.65 239.09L135.35 244.79M129.65 244.79L135.35 239.09" stroke="#7a3489" stroke-width="1.15"/>
<path d="M151.50 254.70H159.50M155.50 250.70V258.70M152.65 251.85L158.35 257.55M152.65 257.55L158.35 251.85" stroke="#7a3489" stroke-width="1.15"/>
<path d="M174.50 267.90H182.50M178.50 263.90V271.90M175.65 265.05L181.35 270.75M175.65 270.75L181.35 265.05" stroke="#7a3489" stroke-width="1.15"/>
<path d="M197.50 299.58H205.50M201.50 295.58V303.58M198.65 296.73L204.35 302.43M198.65 302.43L204.35 296.73" stroke="#7a3489" stroke-width="1.15"/>
<path d="M220.50 272.74H228.50M224.50 268.74V276.74M221.65 269.89L227.35 275.59M221.65 275.59L227.35 269.89" stroke="#7a3489" stroke-width="1.15"/>
<path d="M243.50 272.30H251.50M247.50 268.30V276.30M244.65 269.45L250.35 275.15M244.65 275.15L250.35 269.45" stroke="#7a3489" stroke-width="1.15"/>
<polyline points="40.50,296.50 63.50,270.98 86.50,263.50 109.50,248.98 132.50,245.90 155.50,246.78 178.50,259.98 201.50,289.90 224.50,271.42 247.50,251.62" fill="none" stroke="#78a83e" stroke-width="0.85"/>
<path d="M37.30 293.30L43.70 299.70M37.30 299.70L43.70 293.30" stroke="#78a83e" stroke-width="1.15"/>
<path d="M60.30 267.78L66.70 274.18M60.30 274.18L66.70 267.78" stroke="#78a83e" stroke-width="1.15"/>
<path d="M83.30 260.30L89.70 266.70M83.30 266.70L89.70 260.30" stroke="#78a83e" stroke-width="1.15"/>
<path d="M106.30 245.78L112.70 252.18M106.30 252.18L112.70 245.78" stroke="#78a83e" stroke-width="1.15"/>
<path d="M129.30 242.70L135.70 249.10M129.30 249.10L135.70 242.70" stroke="#78a83e" stroke-width="1.15"/>
<path d="M152.30 243.58L158.70 249.98M152.30 249.98L158.70 243.58" stroke="#78a83e" stroke-width="1.15"/>
<path d="M175.30 256.78L181.70 263.18M175.30 263.18L181.70 256.78" stroke="#78a83e" stroke-width="1.15"/>
<path d="M198.30 286.70L204.70 293.10M198.30 293.10L204.70 286.70" stroke="#78a83e" stroke-width="1.15"/>
<path d="M221.30 268.22L227.70 274.62M221.30 274.62L227.70 268.22" stroke="#78a83e" stroke-width="1.15"/>
<path d="M244.30 248.42L250.70 254.82M244.30 254.82L250.70 248.42" stroke="#78a83e" stroke-width="1.15"/>
<rect x="312.5" y="208.5" width="206.00" height="110.00" fill="none" stroke="#5c5c5c" stroke-width="1"/>
<path d="M312.50 318.5v-2M312.50 208.5v2" stroke="#5c5c5c" stroke-width="1"/>
<text x="312.50" y="334.70" font-size="11.5" text-anchor="middle" fill="#222222">0.1</text>
<path d="M335.39 318.5v-2M335.39 208.5v2" stroke="#5c5c5c" stroke-width="1"/>
<text x="335.39" y="334.70" font-size="11.5" text-anchor="middle" fill="#222222">0.2</text>
<path d="M358.28 318.5v-2M358.28 208.5v2" stroke="#5c5c5c" stroke-width="1"/>
<text x="358.28" y="334.70" font-size="11.5" text-anchor="middle" fill="#222222">0.3</text>
<path d="M381.17 318.5v-2M381.17 208.5v2" stroke="#5c5c5c" stroke-width="1"/>
<text x="381.17" y="334.70" font-size="11.5" text-anchor="middle" fill="#222222">0.4</text>
<path d="M404.06 318.5v-2M404.06 208.5v2" stroke="#5c5c5c" stroke-width="1"/>
<text x="404.06" y="334.70" font-size="11.5" text-anchor="middle" fill="#222222">0.5</text>
<path d="M426.94 318.5v-2M426.94 208.5v2" stroke="#5c5c5c" stroke-width="1"/>
<text x="426.94" y="334.70" font-size="11.5" text-anchor="middle" fill="#222222">0.6</text>
<path d="M449.83 318.5v-2M449.83 208.5v2" stroke="#5c5c5c" stroke-width="1"/>
<text x="449.83" y="334.70" font-size="11.5" text-anchor="middle" fill="#222222">0.7</text>
<path d="M472.72 318.5v-2M472.72 208.5v2" stroke="#5c5c5c" stroke-width="1"/>
<text x="472.72" y="334.70" font-size="11.5" text-anchor="middle" fill="#222222">0.8</text>
<path d="M495.61 318.5v-2M495.61 208.5v2" stroke="#5c5c5c" stroke-width="1"/>
<text x="495.61" y="334.70" font-size="11.5" text-anchor="middle" fill="#222222">0.9</text>
<path d="M518.50 318.5v-2M518.50 208.5v2" stroke="#5c5c5c" stroke-width="1"/>
<text x="518.50" y="334.70" font-size="11.5" text-anchor="middle" fill="#222222">1.0</text>
<path d="M312.5 318.50h2M518.5 318.50h-2" stroke="#5c5c5c" stroke-width="1"/>
<text x="307.50" y="322.50" font-size="11.5" text-anchor="end" fill="#222222">50</text>
<path d="M312.5 291.00h2M518.5 291.00h-2" stroke="#5c5c5c" stroke-width="1"/>
<text x="307.50" y="295.00" font-size="11.5" text-anchor="end" fill="#222222">60</text>
<path d="M312.5 263.50h2M518.5 263.50h-2" stroke="#5c5c5c" stroke-width="1"/>
<text x="307.50" y="267.50" font-size="11.5" text-anchor="end" fill="#222222">70</text>
<path d="M312.5 236.00h2M518.5 236.00h-2" stroke="#5c5c5c" stroke-width="1"/>
<text x="307.50" y="240.00" font-size="11.5" text-anchor="end" fill="#222222">80</text>
<path d="M312.5 208.50h2M518.5 208.50h-2" stroke="#5c5c5c" stroke-width="1"/>
<text x="307.50" y="212.50" font-size="11.5" text-anchor="end" fill="#222222">90</text>
<text x="415.50" y="350.70" font-size="13.3" text-anchor="middle" fill="#222222">sigma</text>
<text x="415.50" y="366.70" font-size="13.2" text-anchor="middle" fill="#222222">(d)</text>
<text transform="translate(289.10,263.50) rotate(-90)" font-size="13.3" text-anchor="middle" fill="#222222">Accuracy (%)</text>
<polyline points="312.50,265.15 335.39,267.07 358.28,269.55 381.17,255.25 404.06,255.80 426.94,262.68 449.83,266.80 472.72,271.20 495.61,265.15 518.50,259.10" fill="none" stroke="#1f72b4" stroke-width="0.85"/>
<path d="M312.50 260.75L316.20 265.15L312.50 269.55L308.80 265.15Z" fill="none" stroke="#1f72b4" stroke-width="1.15"/>
<path d="M335.39 262.68L339.09 267.07L335.39 271.47L331.69 267.07Z" fill="none" stroke="#1f72b4" stroke-width="1.15"/>
<path d="M358.28 265.15L361.98 269.55L358.28 273.95L354.58 269.55Z" fill="none" stroke="#1f72b4" stroke-width="1.15"/>
<path d="M381.17 250.85L384.87 255.25L381.17 259.65L377.47 255.25Z" fill="none" stroke="#1f72b4" stroke-width="1.15"/>
<path d="M404.06 251.40L407.76 255.80L404.06 260.20L400.36 255.80Z" fill="none" stroke="#1f72b4" stroke-width="1.15"/>
<path d="M426.94 258.28L430.64 262.68L426.94 267.07L423.24 262.68Z" fill="none" stroke="#1f72b4" stroke-width="1.15"/>
<path d="M449.83 262.40L453.53 266.80L449.83 271.20L446.13 266.80Z" fill="none" stroke="#1f72b4" stroke-width="1.15"/>
<path d="M472.72 266.80L476.42 271.20L472.72 275.60L469.02 271.20Z" fill="none" stroke="#1f72b4" stroke-width="1.15"/>
<path d="M495.61 260.75L499.31 265.15L495.61 269.55L491.91 265.15Z" fill="none" stroke="#1f72b4" stroke-width="1.15"/>
<path d="M518.50 254.70L522.20 259.10L518.50 263.50L514.80 259.10Z" fill="none" stroke="#1f72b4" stroke-width="1.15"/>
<polyline points="312.50,282.48 335.39,289.62 358.28,296.50 381.17,257.45 404.06,262.12 426.94,262.68 449.83,269.00 472.72,285.23 495.61,276.98 518.50,269.00" fill="none" stroke="#d35a2a" stroke-width="0.85"/>
<path d="M308.60 279.58L316.40 279.58L312.50 285.98Z" fill="none" stroke="#d35a2a" stroke-width="1.15"/>
<path d="M331.49 286.73L339.29 286.73L335.39 293.12Z" fill="none" stroke="#d35a2a" stroke-width="1.15"/>
<path d="M354.38 293.60L362.18 293.60L358.28 300.00Z" fill="none" stroke="#d35a2a" stroke-width="1.15"/>
<path d="M377.27 254.55L385.07 254.55L381.17 260.95Z" fill="none" stroke="#d35a2a" stroke-width="1.15"/>
<path d="M400.16 259.23L407.96 259.23L404.06 265.62Z" fill="none" stroke="#d35a2a" stroke-width="1.15"/>
<path d="M423.04 259.78L430.84 259.78L426.94 266.18Z" fill="none" stroke="#d35a2a" stroke-width="1.15"/>
<path d="M445.93 266.10L453.73 266.10L449.83 272.50Z" fill="none" stroke="#d35a2a" stroke-width="1.15"/>
<path d="M468.82 282.33L476.62 282.33L472.72 288.73Z" fill="none" stroke="#d35a2a" stroke-width="1.15"/>
<path d="M491.71 274.08L499.51 274.08L495.61 280.48Z" fill="none" stroke="#d35a2a" stroke-width="1.15"/>
<path d="M514.60 266.10L522.40 266.10L518.50 272.50Z" fill="none" stroke="#d35a2a" stroke-width="1.15"/>
<polyline points="312.50,298.15 335.39,283.30 358.28,269.00 381.17,258.27 404.06,263.77 426.94,260.48 449.83,271.20 472.72,293.20 495.61,281.65 518.50,275.88" fill="none" stroke="#ebb83a" stroke-width="0.85"/>
<path d="M308.60 298.15H316.40M312.50 294.25V302.05" stroke="#ebb83a" stroke-width="1.15"/>
<path d="M331.49 283.30H339.29M335.39 279.40V287.20" stroke="#ebb83a" stroke-width="1.15"/>
<path d="M354.38 269.00H362.18M358.28 265.10V272.90" stroke="#ebb83a" stroke-width="1.15"/>
<path d="M377.27 258.27H385.07M381.17 254.37V262.17" stroke="#ebb83a" stroke-width="1.15"/>
<path d="M400.16 263.77H407.96M404.06 259.88V267.67" stroke="#ebb83a" stroke-width="1.15"/>
<path d="M423.04 260.48H430.84M426.94 256.58V264.38" stroke="#ebb83a" stroke-width="1.15"/>
<path d="M445.93 271.20H453.73M449.83 267.30V275.10" stroke="#ebb83a" stroke-width="1.15"/>
<path d="M468.82 293.20H476.62M472.72 289.30V297.10" stroke="#ebb83a" stroke-width="1.15"/>
<path d="M491.71 281.65H499.51M495.61 277.75V285.55" stroke="#ebb83a" stroke-width="1.15"/>
<path d="M514.60 275.88H522.40M518.50 271.98V279.77" stroke="#ebb83a" stroke-width="1.15"/>
<polyline points="312.50,272.57 335.39,271.20 358.28,265.15 381.17,258.27 404.06,261.02 426.94,263.77 449.83,265.15 472.72,265.70 495.61,269.00 518.50,279.45" fill="none" stroke="#7a3489" stroke-width="0.85"/>
<path d="M308.50 272.57H316.50M312.50 268.57V276.57M309.65 269.72L315.35 275.43M309.65 275.43L315.35 269.72" stroke="#7a3489" stroke-width="1.15"/>
<path d="M331.39 271.20H339.39M335.39 267.20V275.20M332.54 268.35L338.24 274.05M332.54 274.05L338.24 268.35" stroke="#7a3489" stroke-width="1.15"/>
<path d="M354.28 265.15H362.28M358.28 261.15V269.15M355.43 262.30L361.13 268.00M355.43 268.00L361.13 262.30" stroke="#7a3489" stroke-width="1.15"/>
<path d="M377.17 258.27H385.17M381.17 254.27V262.27M378.32 255.42L384.02 261.12M378.32 261.12L384.02 255.42" stroke="#7a3489" stroke-width="1.15"/>
<path d="M400.06 261.02H408.06M404.06 257.02V265.02M401.21 258.17L406.91 263.88M401.21 263.88L406.91 258.17" stroke="#7a3489" stroke-width="1.15"/>
<path d="M422.94 263.77H430.94M426.94 259.77V267.77M424.09 260.92L429.79 266.62M424.09 266.62L429.79 260.92" stroke="#7a3489" stroke-width="1.15"/>
<path d="M445.83 265.15H453.83M449.83 261.15V269.15M446.98 262.30L452.68 268.00M446.98 268.00L452.68 262.30" stroke="#7a3489" stroke-width="1.15"/>
<path d="M468.72 265.70H476.72M472.72 261.70V269.70M469.87 262.85L475.57 268.55M469.87 268.55L475.57 262.85" stroke="#7a3489" stroke-width="1.15"/>
<path d="M491.61 269.00H499.61M495.61 265.00V273.00M492.76 266.15L498.46 271.85M492.76 271.85L498.46 266.15" stroke="#7a3489" stroke-width="1.15"/>
<path d="M514.50 279.45H522.50M518.50 275.45V283.45M515.65 276.60L521.35 282.30M515.65 282.30L521.35 276.60" stroke="#7a3489" stroke-width="1.15"/>
<polyline points="312.50,265.98 335.39,276.70 358.28,292.10 381.17,256.90 404.06,265.70 426.94,258.55 449.83,267.90 472.72,276.70 495.61,273.68 518.50,265.15" fill="none" stroke="#78a83e" stroke-width="0.85"/>
<path d="M309.30 262.78L315.70 269.18M309.30 269.18L315.70 262.78" stroke="#78a83e" stroke-width="1.15"/>
<path d="M332.19 273.50L338.59 279.90M332.19 279.90L338.59 273.50" stroke="#78a83e" stroke-width="1.15"/>
<path d="M355.08 288.90L361.48 295.30M355.08 295.30L361.48 288.90" stroke="#78a83e" stroke-width="1.15"/>
<path d="M377.97 253.70L384.37 260.10M377.97 260.10L384.37 253.70" stroke="#78a83e" stroke-width="1.15"/>
<path d="M400.86 262.50L407.26 268.90M400.86 268.90L407.26 262.50" stroke="#78a83e" stroke-width="1.15"/>
<path d="M423.74 255.35L430.14 261.75M423.74 261.75L430.14 255.35" stroke="#78a83e" stroke-width="1.15"/>
<path d="M446.63 264.70L453.03 271.10M446.63 271.10L453.03 264.70" stroke="#78a83e" stroke-width="1.15"/>
<path d="M469.52 273.50L475.92 279.90M469.52 279.90L475.92 273.50" stroke="#78a83e" stroke-width="1.15"/>
<path d="M492.41 270.48L498.81 276.88M492.41 276.88L498.81 270.48" stroke="#78a83e" stroke-width="1.15"/>
<path d="M515.30 261.95L521.70 268.35M515.30 268.35L521.70 261.95" stroke="#78a83e" stroke-width="1.15"/>
<rect x="40.5" y="387.5" width="207.00" height="110.00" fill="none" stroke="#5c5c5c" stroke-width="1"/>
<path d="M40.50 497.5v-2M40.50 387.5v2" stroke="#5c5c5c" stroke-width="1"/>
<text x="40.50" y="513.70" font-size="11.5" text-anchor="middle" fill="#222222">0.1</text>
<path d="M63.50 497.5v-2M63.50 387.5v2" stroke="#5c5c5c" stroke-width="1"/>
<text x="63.50" y="513.70" font-size="11.5" text-anchor="middle" fill="#222222">0.2</text>
<path d="M86.50 497.5v-2M86.50 387.5v2" stroke="#5c5c5c" stroke-width="1"/>
<text x="86.50" y="513.70" font-size="11.5" text-anchor="middle" fill="#222222">0.3</text>
<path d="M109.50 497.5v-2M109.50 387.5v2" stroke="#5c5c5c" stroke-width="1"/>
<text x="109.50" y="513.70" font-size="11.5" text-anchor="middle" fill="#222222">0.4</text>
<path d="M132.50 497.5v-2M132.50 387.5v2" stroke="#5c5c5c" stroke-width="1"/>
<text x="132.50" y="513.70" font-size="11.5" text-anchor="middle" fill="#222222">0.5</text>
<path d="M155.50 497.5v-2M155.50 387.5v2" stroke="#5c5c5c" stroke-width="1"/>
<text x="155.50" y="513.70" font-size="11.5" text-anchor="middle" fill="#222222">0.6</text>
<path d="M178.50 497.5v-2M178.50 387.5v2" stroke="#5c5c5c" stroke-width="1"/>
<text x="178.50" y="513.70" font-size="11.5" text-anchor="middle" fill="#222222">0.7</text>
<path d="M201.50 497.5v-2M201.50 387.5v2" stroke="#5c5c5c" stroke-width="1"/>
<text x="201.50" y="513.70" font-size="11.5" text-anchor="middle" fill="#222222">0.8</text>
<path d="M224.50 497.5v-2M224.50 387.5v2" stroke="#5c5c5c" stroke-width="1"/>
<text x="224.50" y="513.70" font-size="11.5" text-anchor="middle" fill="#222222">0.9</text>
<path d="M247.50 497.5v-2M247.50 387.5v2" stroke="#5c5c5c" stroke-width="1"/>
<text x="247.50" y="513.70" font-size="11.5" text-anchor="middle" fill="#222222">1.0</text>
<path d="M40.5 497.50h2M247.5 497.50h-2" stroke="#5c5c5c" stroke-width="1"/>
<text x="35.50" y="501.50" font-size="11.5" text-anchor="end" fill="#222222">50</text>
<path d="M40.5 460.83h2M247.5 460.83h-2" stroke="#5c5c5c" stroke-width="1"/>
<text x="35.50" y="464.83" font-size="11.5" text-anchor="end" fill="#222222">60</text>
<path d="M40.5 424.17h2M247.5 424.17h-2" stroke="#5c5c5c" stroke-width="1"/>
<text x="35.50" y="428.17" font-size="11.5" text-anchor="end" fill="#222222">70</text>
<path d="M40.5 387.50h2M247.5 387.50h-2" stroke="#5c5c5c" stroke-width="1"/>
<text x="35.50" y="391.50" font-size="11.5" text-anchor="end" fill="#222222">80</text>
<text x="144.00" y="529.70" font-size="13.3" text-anchor="middle" fill="#222222">sigma</text>
<text x="144.00" y="545.70" font-size="13.2" text-anchor="middle" fill="#222222">(e)</text>
<text transform="translate(17.10,442.50) rotate(-90)" font-size="13.3" text-anchor="middle" fill="#222222">Accuracy (%)</text>
<polyline points="40.50,440.67 63.50,420.50 86.50,461.20 109.50,438.10 132.50,452.03 155.50,435.17 178.50,449.83 201.50,456.43 224.50,443.97 247.50,428.93" fill="none" stroke="#1f72b4" stroke-width="0.85"/>
<path d="M40.50 436.27L44.20 440.67L40.50 445.07L36.80 440.67Z" fill="none" stroke="#1f72b4" stroke-width="1.15"/>
<path d="M63.50 416.10L67.20 420.50L63.50 424.90L59.80 420.50Z" fill="none" stroke="#1f72b4" stroke-width="1.15"/>
<path d="M86.50 456.80L90.20 461.20L86.50 465.60L82.80 461.20Z" fill="none" stroke="#1f72b4" stroke-width="1.15"/>
<path d="M109.50 433.70L113.20 438.10L109.50 442.50L105.80 438.10Z" fill="none" stroke="#1f72b4" stroke-width="1.15"/>
<path d="M132.50 447.63L136.20 452.03L132.50 456.43L128.80 452.03Z" fill="none" stroke="#1f72b4" stroke-width="1.15"/>
<path d="M155.50 430.77L159.20 435.17L155.50 439.57L151.80 435.17Z" fill="none" stroke="#1f72b4" stroke-width="1.15"/>
<path d="M178.50 445.43L182.20 449.83L178.50 454.23L174.80 449.83Z" fill="none" stroke="#1f72b4" stroke-width="1.15"/>
<path d="M201.50 452.03L205.20 456.43L201.50 460.83L197.80 456.43Z" fill="none" stroke="#1f72b4" stroke-width="1.15"/>
<path d="M224.50 439.57L228.20 443.97L224.50 448.37L220.80 443.97Z" fill="none" stroke="#1f72b4" stroke-width="1.15"/>
<path d="M247.50 424.53L251.20 428.93L247.50 433.33L243.80 428.93Z" fill="none" stroke="#1f72b4" stroke-width="1.15"/>
<polyline points="40.50,423.43 63.50,428.93 86.50,441.77 109.50,416.83 132.50,433.70 155.50,426.73 178.50,440.67 201.50,453.50 224.50,448.37 247.50,424.53" fill="none" stroke="#d35a2a" stroke-width="0.85"/>
<path d="M36.60 420.53L44.40 420.53L40.50 426.93Z" fill="none" stroke="#d35a2a" stroke-width="1.15"/>
<path d="M59.60 426.03L67.40 426.03L63.50 432.43Z" fill="none" stroke="#d35a2a" stroke-width="1.15"/>
<path d="M82.60 438.87L90.40 438.87L86.50 445.27Z" fill="none" stroke="#d35a2a" stroke-width="1.15"/>
<path d="M105.60 413.93L113.40 413.93L109.50 420.33Z" fill="none" stroke="#d35a2a" stroke-width="1.15"/>
<path d="M128.60 430.80L136.40 430.80L132.50 437.20Z" fill="none" stroke="#d35a2a" stroke-width="1.15"/>
<path d="M151.60 423.83L159.40 423.83L155.50 430.23Z" fill="none" stroke="#d35a2a" stroke-width="1.15"/>
<path d="M174.60 437.77L182.40 437.77L178.50 444.17Z" fill="none" stroke="#d35a2a" stroke-width="1.15"/>
<path d="M197.60 450.60L205.40 450.60L201.50 457.00Z" fill="none" stroke="#d35a2a" stroke-width="1.15"/>
<path d="M220.60 445.47L228.40 445.47L224.50 451.87Z" fill="none" stroke="#d35a2a" stroke-width="1.15"/>
<path d="M243.60 421.63L251.40 421.63L247.50 428.03Z" fill="none" stroke="#d35a2a" stroke-width="1.15"/>
<polyline points="40.50,442.13 63.50,423.80 86.50,453.13 109.50,418.30 132.50,442.13 155.50,428.93 178.50,442.87 201.50,470.37 224.50,456.43 247.50,445.80" fill="none" stroke="#ebb83a" stroke-width="0.85"/>
<path d="M36.60 442.13H44.40M40.50 438.23V446.03" stroke="#ebb83a" stroke-width="1.15"/>
<path d="M59.60 423.80H67.40M63.50 419.90V427.70" stroke="#ebb83a" stroke-width="1.15"/>
<path d="M82.60 453.13H90.40M86.50 449.23V457.03" stroke="#ebb83a" stroke-width="1.15"/>
<path d="M105.60 418.30H113.40M109.50 414.40V422.20" stroke="#ebb83a" stroke-width="1.15"/>
<path d="M128.60 442.13H136.40M132.50 438.23V446.03" stroke="#ebb83a" stroke-width="1.15"/>
<path d="M151.60 428.93H159.40M155.50 425.03V432.83" stroke="#ebb83a" stroke-width="1.15"/>
<path d="M174.60 442.87H182.40M178.50 438.97V446.77" stroke="#ebb83a" stroke-width="1.15"/>
<path d="M197.60 470.37H205.40M201.50 466.47V474.27" stroke="#ebb83a" stroke-width="1.15"/>
<path d="M220.60 456.43H228.40M224.50 452.53V460.33" stroke="#ebb83a" stroke-width="1.15"/>
<path d="M243.60 445.80H251.40M247.50 441.90V449.70" stroke="#ebb83a" stroke-width="1.15"/>
<polyline points="40.50,445.80 63.50,442.13 86.50,442.13 109.50,425.63 132.50,427.83 155.50,437.00 178.50,442.87 201.50,456.43 224.50,447.27 247.50,431.50" fill="none" stroke="#7a3489" stroke-width="0.85"/>
<path d="M36.50 445.80H44.50M40.50 441.80V449.80M37.65 442.95L43.35 448.65M37.65 448.65L43.35 442.95" stroke="#7a3489" stroke-width="1.15"/>
<path d="M59.50 442.13H67.50M63.50 438.13V446.13M60.65 439.28L66.35 444.98M60.65 444.98L66.35 439.28" stroke="#7a3489" stroke-width="1.15"/>
<path d="M82.50 442.13H90.50M86.50 438.13V446.13M83.65 439.28L89.35 444.98M83.65 444.98L89.35 439.28" stroke="#7a3489" stroke-width="1.15"/>
<path d="M105.50 425.63H113.50M109.50 421.63V429.63M106.65 422.78L112.35 428.48M106.65 428.48L112.35 422.78" stroke="#7a3489" stroke-width="1.15"/>
<path d="M128.50 427.83H136.50M132.50 423.83V431.83M129.65 424.98L135.35 430.68M129.65 430.68L135.35 424.98" stroke="#7a3489" stroke-width="1.15"/>
<path d="M151.50 437.00H159.50M155.50 433.00V441.00M152.65 434.15L158.35 439.85M152.65 439.85L158.35 434.15" stroke="#7a3489" stroke-width="1.15"/>
<path d="M174.50 442.87H182.50M178.50 438.87V446.87M175.65 440.02L181.35 445.72M175.65 445.72L181.35 440.02" stroke="#7a3489" stroke-width="1.15"/>
<path d="M197.50 456.43H205.50M201.50 452.43V460.43M198.65 453.58L204.35 459.28M198.65 459.28L204.35 453.58" stroke="#7a3489" stroke-width="1.15"/>
<path d="M220.50 447.27H228.50M224.50 443.27V451.27M221.65 444.42L227.35 450.12M221.65 450.12L227.35 444.42" stroke="#7a3489" stroke-width="1.15"/>
<path d="M243.50 431.50H251.50M247.50 427.50V435.50M244.65 428.65L250.35 434.35M244.65 434.35L250.35 428.65" stroke="#7a3489" stroke-width="1.15"/>
<polyline points="40.50,448.00 63.50,449.83 86.50,456.07 109.50,419.77 132.50,442.13 155.50,427.10 178.50,429.67 201.50,430.03 224.50,430.77 247.50,424.53" fill="none" stroke="#78a83e" stroke-width="0.85"/>
<path d="M37.30 444.80L43.70 451.20M37.30 451.20L43.70 444.80" stroke="#78a83e" stroke-width="1.15"/>
<path d="M60.30 446.63L66.70 453.03M60.30 453.03L66.70 446.63" stroke="#78a83e" stroke-width="1.15"/>
<path d="M83.30 452.87L89.70 459.27M83.30 459.27L89.70 452.87" stroke="#78a83e" stroke-width="1.15"/>
<path d="M106.30 416.57L112.70 422.97M106.30 422.97L112.70 416.57" stroke="#78a83e" stroke-width="1.15"/>
<path d="M129.30 438.93L135.70 445.33M129.30 445.33L135.70 438.93" stroke="#78a83e" stroke-width="1.15"/>
<path d="M152.30 423.90L158.70 430.30M152.30 430.30L158.70 423.90" stroke="#78a83e" stroke-width="1.15"/>
<path d="M175.30 426.47L181.70 432.87M175.30 432.87L181.70 426.47" stroke="#78a83e" stroke-width="1.15"/>
<path d="M198.30 426.83L204.70 433.23M198.30 433.23L204.70 426.83" stroke="#78a83e" stroke-width="1.15"/>
<path d="M221.30 427.57L227.70 433.97M221.30 433.97L227.70 427.57" stroke="#78a83e" stroke-width="1.15"/>
<path d="M244.30 421.33L250.70 427.73M244.30 427.73L250.70 421.33" stroke="#78a83e" stroke-width="1.15"/>
<rect x="312.5" y="387.5" width="206.00" height="110.00" fill="none" stroke="#5c5c5c" stroke-width="1"/>
<path d="M312.50 497.5v-2M312.50 387.5v2" stroke="#5c5c5c" stroke-width="1"/>
<text x="312.50" y="513.70" font-size="11.5" text-anchor="middle" fill="#222222">0.1</text>
<path d="M335.39 497.5v-2M335.39 387.5v2" stroke="#5c5c5c" stroke-width="1"/>
<text x="335.39" y="513.70" font-size="11.5" text-anchor="middle" fill="#222222">0.2</text>
<path d="M358.28 497.5v-2M358.28 387.5v2" stroke="#5c5c5c" stroke-width="1"/>
<text x="358.28" y="513.70" font-size="11.5" text-anchor="middle" fill="#222222">0.3</text>
<path d="M381.17 497.5v-2M381.17 387.5v2" stroke="#5c5c5c" stroke-width="1"/>
<text x="381.17" y="513.70" font-size="11.5" text-anchor="middle" fill="#222222">0.4</text>
<path d="M404.06 497.5v-2M404.06 387.5v2" stroke="#5c5c5c" stroke-width="1"/>
<text x="404.06" y="513.70" font-size="11.5" text-anchor="middle" fill="#222222">0.5</text>
<path d="M426.94 497.5v-2M426.94 387.5v2" stroke="#5c5c5c" stroke-width="1"/>
<text x="426.94" y="513.70" font-size="11.5" text-anchor="middle" fill="#222222">0.6</text>
<path d="M449.83 497.5v-2M449.83 387.5v2" stroke="#5c5c5c" stroke-width="1"/>
<text x="449.83" y="513.70" font-size="11.5" text-anchor="middle" fill="#222222">0.7</text>
<path d="M472.72 497.5v-2M472.72 387.5v2" stroke="#5c5c5c" stroke-width="1"/>
<text x="472.72" y="513.70" font-size="11.5" text-anchor="middle" fill="#222222">0.8</text>
<path d="M495.61 497.5v-2M495.61 387.5v2" stroke="#5c5c5c" stroke-width="1"/>
<text x="495.61" y="513.70" font-size="11.5" text-anchor="middle" fill="#222222">0.9</text>
<path d="M518.50 497.5v-2M518.50 387.5v2" stroke="#5c5c5c" stroke-width="1"/>
<text x="518.50" y="513.70" font-size="11.5" text-anchor="middle" fill="#222222">1.0</text>
<path d="M312.5 497.50h2M518.5 497.50h-2" stroke="#5c5c5c" stroke-width="1"/>
<text x="307.50" y="501.50" font-size="11.5" text-anchor="end" fill="#222222">20</text>
<path d="M312.5 460.83h2M518.5 460.83h-2" stroke="#5c5c5c" stroke-width="1"/>
<text x="307.50" y="464.83" font-size="11.5" text-anchor="end" fill="#222222">30</text>
<path d="M312.5 424.17h2M518.5 424.17h-2" stroke="#5c5c5c" stroke-width="1"/>
<text x="307.50" y="428.17" font-size="11.5" text-anchor="end" fill="#222222">40</text>
<path d="M312.5 387.50h2M518.5 387.50h-2" stroke="#5c5c5c" stroke-width="1"/>
<text x="307.50" y="391.50" font-size="11.5" text-anchor="end" fill="#222222">50</text>
<text x="415.50" y="529.70" font-size="13.3" text-anchor="middle" fill="#222222">sigma</text>
<text x="415.50" y="545.70" font-size="13.2" text-anchor="middle" fill="#222222">(f)</text>
<text transform="translate(289.10,442.50) rotate(-90)" font-size="13.3" text-anchor="middle" fill="#222222">Accuracy (%)</text>
<polyline points="312.50,414.27 335.39,429.67 358.28,448.73 381.17,424.53 404.06,412.43 426.94,426.00 449.83,422.33 472.72,472.57 495.61,441.40 518.50,409.13" fill="none" stroke="#1f72b4" stroke-width="0.85"/>
<path d="M312.50 409.87L316.20 414.27L312.50 418.67L308.80 414.27Z" fill="none" stroke="#1f72b4" stroke-width="1.15"/>
<path d="M335.39 425.27L339.09 429.67L335.39 434.07L331.69 429.67Z" fill="none" stroke="#1f72b4" stroke-width="1.15"/>
<path d="M358.28 444.33L361.98 448.73L358.28 453.13L354.58 448.73Z" fill="none" stroke="#1f72b4" stroke-width="1.15"/>
<path d="M381.17 420.13L384.87 424.53L381.17 428.93L377.47 424.53Z" fill="none" stroke="#1f72b4" stroke-width="1.15"/>
<path d="M404.06 408.03L407.76 412.43L404.06 416.83L400.36 412.43Z" fill="none" stroke="#1f72b4" stroke-width="1.15"/>
<path d="M426.94 421.60L430.64 426.00L426.94 430.40L423.24 426.00Z" fill="none" stroke="#1f72b4" stroke-width="1.15"/>
<path d="M449.83 417.93L453.53 422.33L449.83 426.73L446.13 422.33Z" fill="none" stroke="#1f72b4" stroke-width="1.15"/>
<path d="M472.72 468.17L476.42 472.57L472.72 476.97L469.02 472.57Z" fill="none" stroke="#1f72b4" stroke-width="1.15"/>
<path d="M495.61 437.00L499.31 441.40L495.61 445.80L491.91 441.40Z" fill="none" stroke="#1f72b4" stroke-width="1.15"/>
<path d="M518.50 404.73L522.20 409.13L518.50 413.53L514.80 409.13Z" fill="none" stroke="#1f72b4" stroke-width="1.15"/>
<polyline points="312.50,465.97 335.39,446.90 358.28,430.77 381.17,424.17 404.06,404.37 426.94,419.03 449.83,422.70 472.72,435.53 495.61,425.63 518.50,406.20" fill="none" stroke="#d35a2a" stroke-width="0.85"/>
<path d="M308.60 463.07L316.40 463.07L312.50 469.47Z" fill="none" stroke="#d35a2a" stroke-width="1.15"/>
<path d="M331.49 444.00L339.29 444.00L335.39 450.40Z" fill="none" stroke="#d35a2a" stroke-width="1.15"/>
<path d="M354.38 427.87L362.18 427.87L358.28 434.27Z" fill="none" stroke="#d35a2a" stroke-width="1.15"/>
<path d="M377.27 421.27L385.07 421.27L381.17 427.67Z" fill="none" stroke="#d35a2a" stroke-width="1.15"/>
<path d="M400.16 401.47L407.96 401.47L404.06 407.87Z" fill="none" stroke="#d35a2a" stroke-width="1.15"/>
<path d="M423.04 416.13L430.84 416.13L426.94 422.53Z" fill="none" stroke="#d35a2a" stroke-width="1.15"/>
<path d="M445.93 419.80L453.73 419.80L449.83 426.20Z" fill="none" stroke="#d35a2a" stroke-width="1.15"/>
<path d="M468.82 432.63L476.62 432.63L472.72 439.03Z" fill="none" stroke="#d35a2a" stroke-width="1.15"/>
<path d="M491.71 422.73L499.51 422.73L495.61 429.13Z" fill="none" stroke="#d35a2a" stroke-width="1.15"/>
<path d="M514.60 403.30L522.40 403.30L518.50 409.70Z" fill="none" stroke="#d35a2a" stroke-width="1.15"/>
<polyline points="312.50,446.90 335.39,440.67 358.28,433.70 381.17,427.47 404.06,420.50 426.94,430.77 449.83,434.43 472.72,442.13 495.61,435.90 518.50,443.60" fill="none" stroke="#ebb83a" stroke-width="0.85"/>
<path d="M308.60 446.90H316.40M312.50 443.00V450.80" stroke="#ebb83a" stroke-width="1.15"/>
<path d="M331.49 440.67H339.29M335.39 436.77V444.57" stroke="#ebb83a" stroke-width="1.15"/>
<path d="M354.38 433.70H362.18M358.28 429.80V437.60" stroke="#ebb83a" stroke-width="1.15"/>
<path d="M377.27 427.47H385.07M381.17 423.57V431.37" stroke="#ebb83a" stroke-width="1.15"/>
<path d="M400.16 420.50H407.96M404.06 416.60V424.40" stroke="#ebb83a" stroke-width="1.15"/>
<path d="M423.04 430.77H430.84M426.94 426.87V434.67" stroke="#ebb83a" stroke-width="1.15"/>
<path d="M445.93 434.43H453.73M449.83 430.53V438.33" stroke="#ebb83a" stroke-width="1.15"/>
<path d="M468.82 442.13H476.62M472.72 438.23V446.03" stroke="#ebb83a" stroke-width="1.15"/>
<path d="M491.71 435.90H499.51M495.61 432.00V439.80" stroke="#ebb83a" stroke-width="1.15"/>
<path d="M514.60 443.60H522.40M518.50 439.70V447.50" stroke="#ebb83a" stroke-width="1.15"/>
<polyline points="312.50,475.13 335.39,459.00 358.28,454.60 381.17,430.77 404.06,406.93 426.94,423.80 449.83,422.70 472.72,413.17 495.61,425.63 518.50,431.50" fill="none" stroke="#7a3489" stroke-width="0.85"/>
<path d="M308.50 475.13H316.50M312.50 471.13V479.13M309.65 472.28L315.35 477.98M309.65 477.98L315.35 472.28" stroke="#7a3489" stroke-width="1.15"/>
<path d="M331.39 459.00H339.39M335.39 455.00V463.00M332.54 456.15L338.24 461.85M332.54 461.85L338.24 456.15" stroke="#7a3489" stroke-width="1.15"/>
<path d="M354.28 454.60H362.28M358.28 450.60V458.60M355.43 451.75L361.13 457.45M355.43 457.45L361.13 451.75" stroke="#7a3489" stroke-width="1.15"/>
<path d="M377.17 430.77H385.17M381.17 426.77V434.77M378.32 427.92L384.02 433.62M378.32 433.62L384.02 427.92" stroke="#7a3489" stroke-width="1.15"/>
<path d="M400.06 406.93H408.06M404.06 402.93V410.93M401.21 404.08L406.91 409.78M401.21 409.78L406.91 404.08" stroke="#7a3489" stroke-width="1.15"/>
<path d="M422.94 423.80H430.94M426.94 419.80V427.80M424.09 420.95L429.79 426.65M424.09 426.65L429.79 420.95" stroke="#7a3489" stroke-width="1.15"/>
<path d="M445.83 422.70H453.83M449.83 418.70V426.70M446.98 419.85L452.68 425.55M446.98 425.55L452.68 419.85" stroke="#7a3489" stroke-width="1.15"/>
<path d="M468.72 413.17H476.72M472.72 409.17V417.17M469.87 410.32L475.57 416.02M469.87 416.02L475.57 410.32" stroke="#7a3489" stroke-width="1.15"/>
<path d="M491.61 425.63H499.61M495.61 421.63V429.63M492.76 422.78L498.46 428.48M492.76 428.48L498.46 422.78" stroke="#7a3489" stroke-width="1.15"/>
<path d="M514.50 431.50H522.50M518.50 427.50V435.50M515.65 428.65L521.35 434.35M515.65 434.35L521.35 428.65" stroke="#7a3489" stroke-width="1.15"/>
<polyline points="312.50,465.23 335.39,454.23 358.28,446.17 381.17,447.27 404.06,444.33 426.94,446.90 449.83,460.10 472.72,449.83 495.61,452.03 518.50,445.80" fill="none" stroke="#78a83e" stroke-width="0.85"/>
<path d="M309.30 462.03L315.70 468.43M309.30 468.43L315.70 462.03" stroke="#78a83e" stroke-width="1.15"/>
<path d="M332.19 451.03L338.59 457.43M332.19 457.43L338.59 451.03" stroke="#78a83e" stroke-width="1.15"/>
<path d="M355.08 442.97L361.48 449.37M355.08 449.37L361.48 442.97" stroke="#78a83e" stroke-width="1.15"/>
<path d="M377.97 444.07L384.37 450.47M377.97 450.47L384.37 444.07" stroke="#78a83e" stroke-width="1.15"/>
<path d="M400.86 441.13L407.26 447.53M400.86 447.53L407.26 441.13" stroke="#78a83e" stroke-width="1.15"/>
<path d="M423.74 443.70L430.14 450.10M423.74 450.10L430.14 443.70" stroke="#78a83e" stroke-width="1.15"/>
<path d="M446.63 456.90L453.03 463.30M446.63 463.30L453.03 456.90" stroke="#78a83e" stroke-width="1.15"/>
<path d="M469.52 446.63L475.92 453.03M469.52 453.03L475.92 446.63" stroke="#78a83e" stroke-width="1.15"/>
<path d="M492.41 448.83L498.81 455.23M492.41 455.23L498.81 448.83" stroke="#78a83e" stroke-width="1.15"/>
<path d="M515.30 442.60L521.70 449.00M515.30 449.00L521.70 442.60" stroke="#78a83e" stroke-width="1.15"/>
</svg>
</body></html>
